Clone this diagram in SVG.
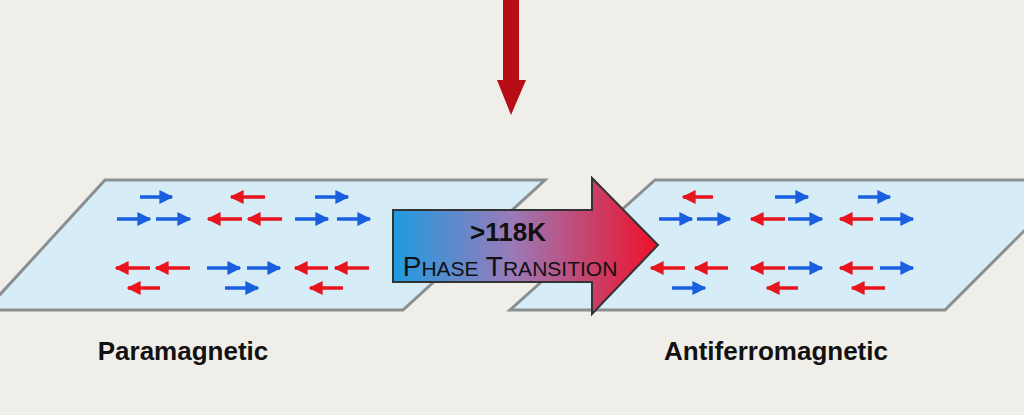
<svg xmlns="http://www.w3.org/2000/svg" width="1024" height="415" viewBox="0 0 1024 415">
<defs>
<linearGradient id="g" x1="0" x2="1" y1="0" y2="0"><stop offset="0" stop-color="#1f9be0"/><stop offset="0.45" stop-color="#9a7ab8"/><stop offset="1" stop-color="#f0102a"/></linearGradient>
<marker id="hb" viewBox="0 0 10 10" refX="9" refY="5" markerWidth="4" markerHeight="4" orient="auto"><path d="M0,0L10,5L0,10z" fill="#1a5fe0"/></marker>
<marker id="hr" viewBox="0 0 10 10" refX="9" refY="5" markerWidth="4" markerHeight="4" orient="auto"><path d="M0,0L10,5L0,10z" fill="#e8141e"/></marker>
</defs>
<style>
.plane{fill:#d6ecf6;stroke:#8a8f92;stroke-width:3}
.b{stroke:#1a5fe0;stroke-width:3.5;marker-end:url(#hb)}
.r{stroke:#e8141e;stroke-width:3.5;marker-end:url(#hr)}
.lbl{font-family:"Liberation Sans",Arial,sans-serif;font-weight:bold;font-size:26px;fill:#111}
</style>
<rect width="1024" height="415" fill="#f0eee8"/>
<g id="top-arrow"><path d="M503,0H519V80H526L511,115L497,80H503Z" fill="#b80d14"/></g>
<g id="plane-left"><path class="plane" d="M105,180H545L403,310H-5L-5,300Z"/></g>
<g id="plane-right"><path class="plane" d="M655,180H1030V225L945,310H510Z"/></g>
<g id="connectors">
<line class="b" x1="140" y1="197" x2="172" y2="197"/><line class="r" x1="265" y1="197" x2="231" y2="197"/><line class="b" x1="315" y1="197" x2="348" y2="197"/>
<line class="b" x1="117" y1="219" x2="150" y2="219"/><line class="b" x1="156" y1="219" x2="190" y2="219"/><line class="r" x1="242" y1="219" x2="208" y2="219"/><line class="r" x1="282" y1="219" x2="248" y2="219"/><line class="b" x1="295" y1="219" x2="328" y2="219"/><line class="b" x1="337" y1="219" x2="370" y2="219"/>
<line class="r" x1="150" y1="268" x2="116" y2="268"/><line class="r" x1="190" y1="268" x2="156" y2="268"/><line class="b" x1="207" y1="268" x2="240" y2="268"/><line class="b" x1="247" y1="268" x2="280" y2="268"/><line class="r" x1="328" y1="268" x2="295" y2="268"/><line class="r" x1="369" y1="268" x2="335" y2="268"/>
<line class="r" x1="160" y1="288" x2="128" y2="288"/><line class="b" x1="225" y1="288" x2="258" y2="288"/><line class="r" x1="343" y1="288" x2="310" y2="288"/>
<line class="r" x1="713" y1="197" x2="683" y2="197"/><line class="b" x1="775" y1="197" x2="808" y2="197"/><line class="b" x1="858" y1="197" x2="890" y2="197"/>
<line class="b" x1="659" y1="219" x2="692" y2="219"/><line class="b" x1="697" y1="219" x2="730" y2="219"/><line class="r" x1="785" y1="219" x2="751" y2="219"/><line class="b" x1="788" y1="219" x2="822" y2="219"/><line class="r" x1="873" y1="219" x2="840" y2="219"/><line class="b" x1="880" y1="219" x2="913" y2="219"/>
<line class="r" x1="685" y1="268" x2="651" y2="268"/><line class="r" x1="728" y1="268" x2="695" y2="268"/><line class="r" x1="785" y1="268" x2="751" y2="268"/><line class="b" x1="788" y1="268" x2="822" y2="268"/><line class="r" x1="873" y1="268" x2="840" y2="268"/><line class="b" x1="880" y1="268" x2="913" y2="268"/>
<line class="b" x1="672" y1="288" x2="705" y2="288"/><line class="r" x1="798" y1="288" x2="767" y2="288"/><line class="r" x1="885" y1="288" x2="852" y2="288"/>
</g>
<g id="transition">
<path d="M393,210H592V178L658,245L592,314V282H393Z" fill="url(#g)" stroke="#333" stroke-width="2"/>
<text x="508" y="241" text-anchor="middle" font-family="Liberation Sans,Arial,sans-serif" font-weight="bold" font-size="26" fill="#111">&gt;118K</text>
<text x="510" y="276" text-anchor="middle" font-family="Liberation Sans,Arial,sans-serif" font-size="28" fill="#111">P<tspan font-size="21">HASE</tspan> T<tspan font-size="21">RANSITION</tspan></text>
</g>
<g id="label-left"><text x="183" y="360" text-anchor="middle" class="lbl">Paramagnetic</text></g>
<g id="label-right"><text x="776" y="360" text-anchor="middle" class="lbl">Antiferromagnetic</text></g>
</svg>
